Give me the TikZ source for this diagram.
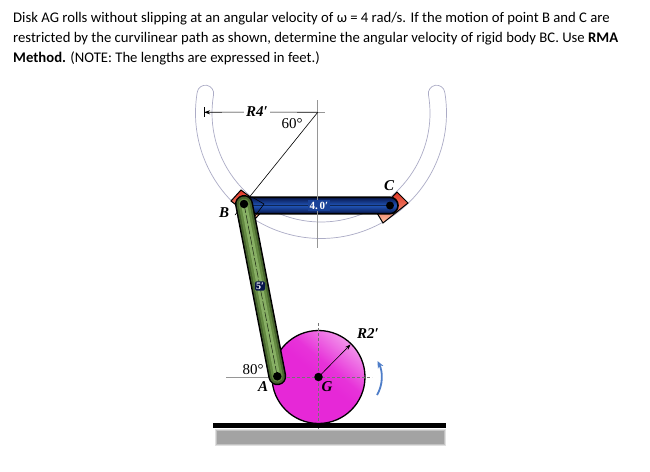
\documentclass[tikz,border=0pt]{standalone}
\usepackage{fontspec}
\setmainfont{Carlito}
\newfontfamily\lblfont{Liberation Serif}
\usetikzlibrary{arrows.meta,calc}
\definecolor{trackc}{RGB}{172,172,198}
\definecolor{guide}{RGB}{150,150,150}
\definecolor{navy}{RGB}{8,22,75}
\definecolor{midblue}{RGB}{32,85,185}
\definecolor{magcore}{RGB}{230,40,215}
\definecolor{maglight}{RGB}{245,175,240}
\definecolor{rodA}{RGB}{70,100,45}
\definecolor{rodB}{RGB}{100,138,66}
\definecolor{rodC}{RGB}{135,175,100}
\definecolor{redA}{RGB}{222,50,35}
\definecolor{redB}{RGB}{250,190,160}
\definecolor{arrowblue}{RGB}{78,125,200}
\pgfdeclareverticalshading{diskshade}{100bp}{color(0bp)=(magcore); color(50bp)=(magcore); color(58bp)=(magcore!92!maglight); color(80bp)=(maglight); color(100bp)=(maglight)}
\tikzset{
  para/.style={anchor=base west,inner sep=0pt,font=\fontsize{14.7}{17}\selectfont},
  bigl/.style={inner sep=0pt,font=\lblfont\bfseries\itshape\fontsize{15}{17}\selectfont},
  angl/.style={inner sep=0pt,font=\lblfont\fontsize{15}{17}\selectfont},
  guideline/.style={draw=guide,line width=0.7pt},
  dashguide/.style={draw=black!55,line width=0.5pt,dash pattern=on 3pt off 2pt},
  thinblk/.style={draw=black,line width=0.6pt},
  pin/.style={circle,fill=black,inner sep=0pt,minimum size=8.5pt},
  sliderbox/.style={draw=black,line width=1pt,shade,shading angle=-50,top color=redA,bottom color=redB},
}
\begin{document}
\begin{tikzpicture}[x=1pt,y=-1pt]
\useasboundingbox (0,0) rectangle (650,471);
\fill[white] (0,0) rectangle (650,471);
% text
\node[para] (t1) at (13,22) {Disk AG rolls without slipping at an angular velocity of ω = 4 rad/s. If the motion of point B and C are};
\node[para] (t2) at (13,42) {restricted by the curvilinear path as shown, determine the angular velocity of rigid body BC. Use \textbf{RMA}};
\node[para] (t3) at (13,62) {\textbf{Method.} (NOTE: The lengths are expressed in feet.)};
% key points
\coordinate (O) at (321,113);
\coordinate (K) at (317.7,112.3);
\coordinate (Bp) at (244,204);
\coordinate (Cp) at (390,205.5);
\coordinate (Ap) at (277.3,376.3);
% track
\draw[trackc,line width=0.7pt]
  ($(O)+(189.6:125.5)$) arc[start angle=189.6,end angle=-9.6,radius=125.5]
  arc[start angle=-9.6,delta angle=-180,radius=8.25]
  arc[start angle=-9.6,end angle=189.6,radius=109]
  arc[start angle=9.6,delta angle=-180,radius=8.25];
% sliders
\draw[sliderbox] (241,190) -- (231,201) -- (255,219) -- (265,208) -- cycle;
\draw[sliderbox] (397,192) -- (408,203) -- (383,223) -- (377,213) -- cycle;
% bar
\node[draw=black,line width=1.6pt,rounded corners=8pt,minimum width=158pt,minimum height=16.5pt,inner sep=0pt,
  shade,top color=navy,bottom color=navy,middle color=midblue] (bar) at (319,205.5) {};
\coordinate (barE) at (386,205.5);
\draw[black!55!midblue,line width=0.6pt] (bar.west) -- (barE);
% centre lines
\coordinate (Vt) at (317.7,100);
\coordinate (Vb) at (317.7,248);
\coordinate (Ht) at (325,112.3);
\coordinate (Tk1) at (204,107);
\coordinate (Tk2) at (204,117);
\coordinate (Dl) at (204,112.3);
\draw[guideline] (Vt) -- (Vb);
\draw[guideline] (K) -- (Ht);
\draw[thinblk] (Tk1) -- (Tk2);
\node[inner sep=1.5pt,fill=midblue!70!navy,text=white,font=\lblfont\bfseries\fontsize{11}{12}\selectfont] (barl) at (bar.center) {4.\,0′};
\node[pin,minimum size=8pt] (pinC) at (Cp) {};
% slider outline over bar
\draw[black,line width=0.6pt] (252,197) -- (264,204) -- (255,216);
% radius line
\coordinate (Ex) at (235,215);
\draw[thinblk] (K) -- (Ex);
% dimension R4
\node[bigl,fill=white,inner sep=2pt] (r4) at (257,112) {R4′};
\draw[thinblk] (r4) -- (K);
\draw[thinblk,-{Stealth[length=6pt,width=4pt]}] (r4) -- (Dl);
\node[angl] (a60) at (292,124) {60°};
% disc
\draw[guideline] (226,377.3) -- (272,377.3);
\node[circle,draw=black,line width=1.3pt,minimum size=93pt,inner sep=0pt,shade,shading=diskshade,shading angle=-40] (G) at (318.5,377) {};
\coordinate (Dt) at (318.5,323);
\coordinate (Db) at (318.5,434);
\coordinate (Dr) at (372,377);
\coordinate (Dl2) at (277,377);
\draw[dashguide] (Dt) -- (Db);
\draw[dashguide] (Dl2) -- (Dr);
\coordinate (Re) at (350.7,344.3);
\draw[thinblk,-{Stealth[length=6pt,width=4pt]}] (G.center) -- (Re);
\node[pin] (pinG) at (G.center) {};
% rod
\draw[black,line width=18pt,line cap=round] (Bp) -- (Ap);
\draw[rodA,line width=15pt,line cap=round] (Bp) -- (Ap);
\draw[rodB,line width=11pt,line cap=round] (Bp) -- (Ap);
\draw[rodC,line width=6pt,line cap=round] (Bp) -- (Ap);
\draw[black!60!rodA,line width=0.5pt,dash pattern=on 9pt off 2pt] (Bp) -- (Ap);
\node[pin] (pinB) at (Bp) {};
\node[pin] (pinA) at (Ap) {};
\node[inner sep=1.2pt,fill=navy,text=white,rounded corners=1.5pt,font=\lblfont\bfseries\fontsize{10}{11}\selectfont] (r5) at (260,286) {5′};
% ground
\fill[black!12] (215,429) rectangle (446,446);
\fill[black!24] (216,429.5) rectangle (445,445);
\node[fill=black!36,inner sep=0pt,minimum width=227pt,minimum height=13pt] (shadow) at (330.5,437) {};
\node[fill=black,inner sep=0pt,minimum width=233pt,minimum height=5pt] (ground) at (329.5,425.5) {};
% labels
\node[bigl] (lB) at (224,213) {B};
\node[bigl] (lC) at (389,186) {C};
\node[bigl] (lA) at (263,387) {A};
\node[bigl] (lG) at (327,387) {G};
\node[bigl] (lR2) at (368,334) {R2′};
\node[angl] (a80) at (253,370) {80°};
% omega arrow
\coordinate (w1) at (377,395);
\coordinate (w2) at (377.5,361);
\draw[arrowblue,line width=1.8pt,-{Stealth[length=7pt,width=6pt]}] (w1) .. controls (383,385) and (383,372) .. (w2);
\end{tikzpicture}
\end{document}
